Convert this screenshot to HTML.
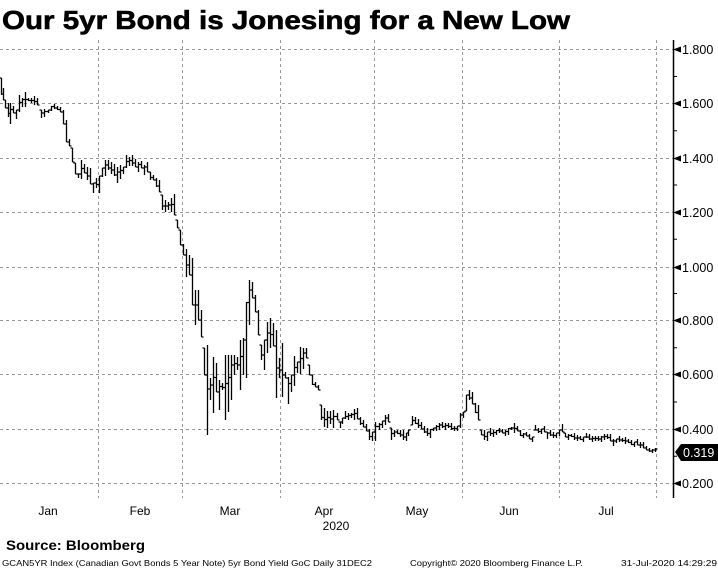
<!DOCTYPE html>
<html><head><meta charset="utf-8"><style>
body{margin:0;width:718px;height:570px;background:#fff;overflow:hidden;font-family:"Liberation Sans",sans-serif;}
</style></head><body>
<svg width="718" height="570" xmlns="http://www.w3.org/2000/svg" id="s">
<text x="2" y="29" font-family="Liberation Sans" font-weight="bold" font-size="26" fill="#000" textLength="568" lengthAdjust="spacingAndGlyphs" stroke="#000" stroke-width="0.6">Our 5yr Bond is Jonesing for a New Low</text>
<g stroke="#999" stroke-width="1" stroke-dasharray="3,3" fill="none">
<path d="M0 49.5H673M0 103.5H673M0 158.5H673M0 212.5H673M0 267.5H673M0 320.5H673M0 374.5H673M0 429.5H673M0 483.5H673"/>
<path d="M98.5 40V498M182.5 40V498M280.5 40V498M374.5 40V498M462.5 40V498M559.5 40V498M656.5 40V498"/>
</g>
<path d="M673.5 40V498" stroke="#000" stroke-width="1.5"/>
<g id="ticks" stroke="#000"></g>
<g font-family="Liberation Sans" font-size="12.5" fill="#000">
<text x="682" y="54">1.800</text><text x="682" y="108">1.600</text><text x="682" y="163">1.400</text>
<text x="682" y="217">1.200</text><text x="682" y="272">1.000</text><text x="682" y="325">0.800</text>
<text x="682" y="379">0.600</text><text x="682" y="434">0.400</text><text x="682" y="488">0.200</text>
</g>
<g fill="#000"><path d="M673 49.5l8-3v6zM673 103.5l8-3v6zM673 158.5l8-3v6zM673 212.5l8-3v6zM673 267.5l8-3v6zM673 320.5l8-3v6zM673 374.5l8-3v6zM673 429.5l8-3v6zM673 483.5l8-3v6z"/>
<path d="M675 452l6-8h37v17h-37z"/></g>
<text x="683" y="457" font-family="Liberation Sans" font-size="12.5" fill="#fff">0.319</text>
<path id="bars" stroke="#000" stroke-width="1.3" fill="none"/>
<g font-family="Liberation Sans" font-size="12" fill="#000" text-anchor="middle">
<text x="48" y="515">Jan</text><text x="140" y="515">Feb</text><text x="230" y="515">Mar</text>
<text x="324" y="515">Apr</text><text x="417" y="515">May</text><text x="509" y="515">Jun</text>
<text x="606" y="515">Jul</text><text x="336" y="530">2020</text>
</g>
<text x="6" y="550" font-family="Liberation Sans" font-weight="bold" font-size="13.5" textLength="139" lengthAdjust="spacingAndGlyphs">Source:  Bloomberg</text>
<g font-family="Liberation Sans" font-size="8.3" fill="#000">
<text x="2" y="566" textLength="370" lengthAdjust="spacingAndGlyphs">GCAN5YR Index (Canadian Govt Bonds 5 Year Note) 5yr Bond Yield GoC  Daily 31DEC2</text>
<text x="410" y="566" textLength="173" lengthAdjust="spacingAndGlyphs">Copyright© 2020 Bloomberg Finance L.P.</text>
<text x="621" y="566" textLength="96" lengthAdjust="spacingAndGlyphs">31-Jul-2020 14:29:29</text>
</g>
</svg>
<script>
var d=[[1,78,95],[3,88,100],[5,100,108],[8,103,117],[10,103,124],[13,106,113],[16,110,119],[19,95,112],[22,98,107],[25,92,107],[28,98,101],[31,98,103],[34,96,105],[37,98,105],[41,110,118],[44,109,117],[48,110,113],[51,106,111],[54,104,109],[57,106,110],[60,107,112],[63,110,124],[66,120,142],[69,139,146],[72,148,162],[75,163,174],[78,174,178],[81,160,179],[84,164,173],[87,167,180],[90,168,184],[93,183,193],[96,178,188],[99,176,193],[102,168,177],[105,160,176],[108,160,170],[111,162,174],[114,164,176],[117,167,183],[120,165,179],[123,167,174],[126,155,168],[129,157,166],[132,155,166],[135,159,167],[138,162,172],[141,161,168],[144,165,175],[147,162,172],[150,172,180],[153,175,180],[156,178,187],[159,180,192],[162,195,210],[165,200,212],[168,202,210],[171,198,212],[174,194,215],[177,220,228],[180,230,245],[183,244,255],[186,249,277],[189,255,275],[192,258,305],[195,290,325],[198,290,320],[201,310,337],[204,348,375],[207,345,435],[210,378,400],[213,357,413],[216,363,392],[219,380,410],[222,383,390],[225,355,420],[228,355,412],[231,355,400],[234,355,375],[237,357,370],[240,340,390],[243,338,375],[246,302,378],[249,280,325],[252,282,298],[255,295,312],[258,310,335],[261,345,360],[264,340,370],[267,322,353],[270,318,348],[273,323,346],[276,330,398],[279,358,378],[282,343,397],[285,372,378],[288,377,404],[291,375,392],[294,356,386],[297,362,373],[300,347,374],[303,348,369],[306,348,358],[309,365,375],[312,375,385],[315,382,387],[318,385,390],[321,405,420],[324,408,427],[327,411,428],[330,411,424],[333,410,428],[337,413,420],[340,422,428],[342,418,424],[345,411,419],[348,413,420],[351,413,418],[354,409,420],[357,408,419],[360,417,425],[363,420,427],[366,424,431],[369,429,440],[372,432,441],[375,422,441],[379,423,430],[382,421,428],[385,415,425],[388,414,422],[391,428,440],[394,430,437],[397,430,434],[400,430,437],[403,430,440],[406,433,441],[408,430,436],[412,416,425],[415,417,424],[418,419,428],[421,422,429],[424,426,433],[427,428,436],[430,429,438],[433,428,431],[436,425,431],[439,423,430],[442,422,428],[445,423,430],[448,423,428],[451,423,430],[454,426,431],[457,426,431],[460,413,428],[463,412,418],[466,395,411],[469,390,400],[472,392,404],[475,403,413],[478,405,420],[481,430,435],[484,430,440],[487,432,441],[490,428,436],[493,430,437],[496,430,435],[499,428,433],[502,429,433],[505,430,436],[508,428,435],[511,427,430],[514,423,433],[517,426,431],[520,430,436],[523,433,438],[526,432,436],[529,434,439],[532,437,442],[535,425,430],[538,428,433],[541,429,434],[544,426,432],[547,432,439],[550,430,436],[553,432,438],[556,433,438],[559,430,436],[562,424,432],[565,433,437],[568,434,440],[571,434,437],[574,433,440],[577,435,441],[580,436,440],[583,437,442],[586,433,438],[589,434,440],[592,436,442],[595,436,441],[598,436,441],[601,436,442],[604,434,440],[607,434,439],[610,434,441],[613,439,446],[616,439,443],[619,436,442],[622,438,442],[625,437,444],[628,439,443],[631,440,445],[634,442,447],[637,439,445],[640,442,448],[643,442,448],[646,446,450],[649,448,452],[652,449,453],[655,448,452]];
var p="",prev=d[0][1];
for(var i=0;i<d.length;i++){var x=d[i][0]+0.5,h=d[i][1],l=d[i][2];var o=Math.max(h,Math.min(l,prev));var c=(i%2)?l-1:h+1;if(i+1<d.length){var nh=d[i+1][1],nl=d[i+1][2];c=Math.max(h,Math.min(l,(nh+nl)/2));}
p+="M"+x+" "+h+"V"+l+"M"+(x-2)+" "+o.toFixed(1)+"h2M"+x+" "+c.toFixed(1)+"h2";prev=c;}
document.getElementById("bars").setAttribute("d",p);
var t="";for(var v=49.5+27;v<498;v+=54.25){t+="M673 "+v.toFixed(1)+"h4";}
var g=document.getElementById("ticks");var e=document.createElementNS("http://www.w3.org/2000/svg","path");e.setAttribute("d",t);e.setAttribute("stroke","#000");g.appendChild(e);
</script>
</body></html>
